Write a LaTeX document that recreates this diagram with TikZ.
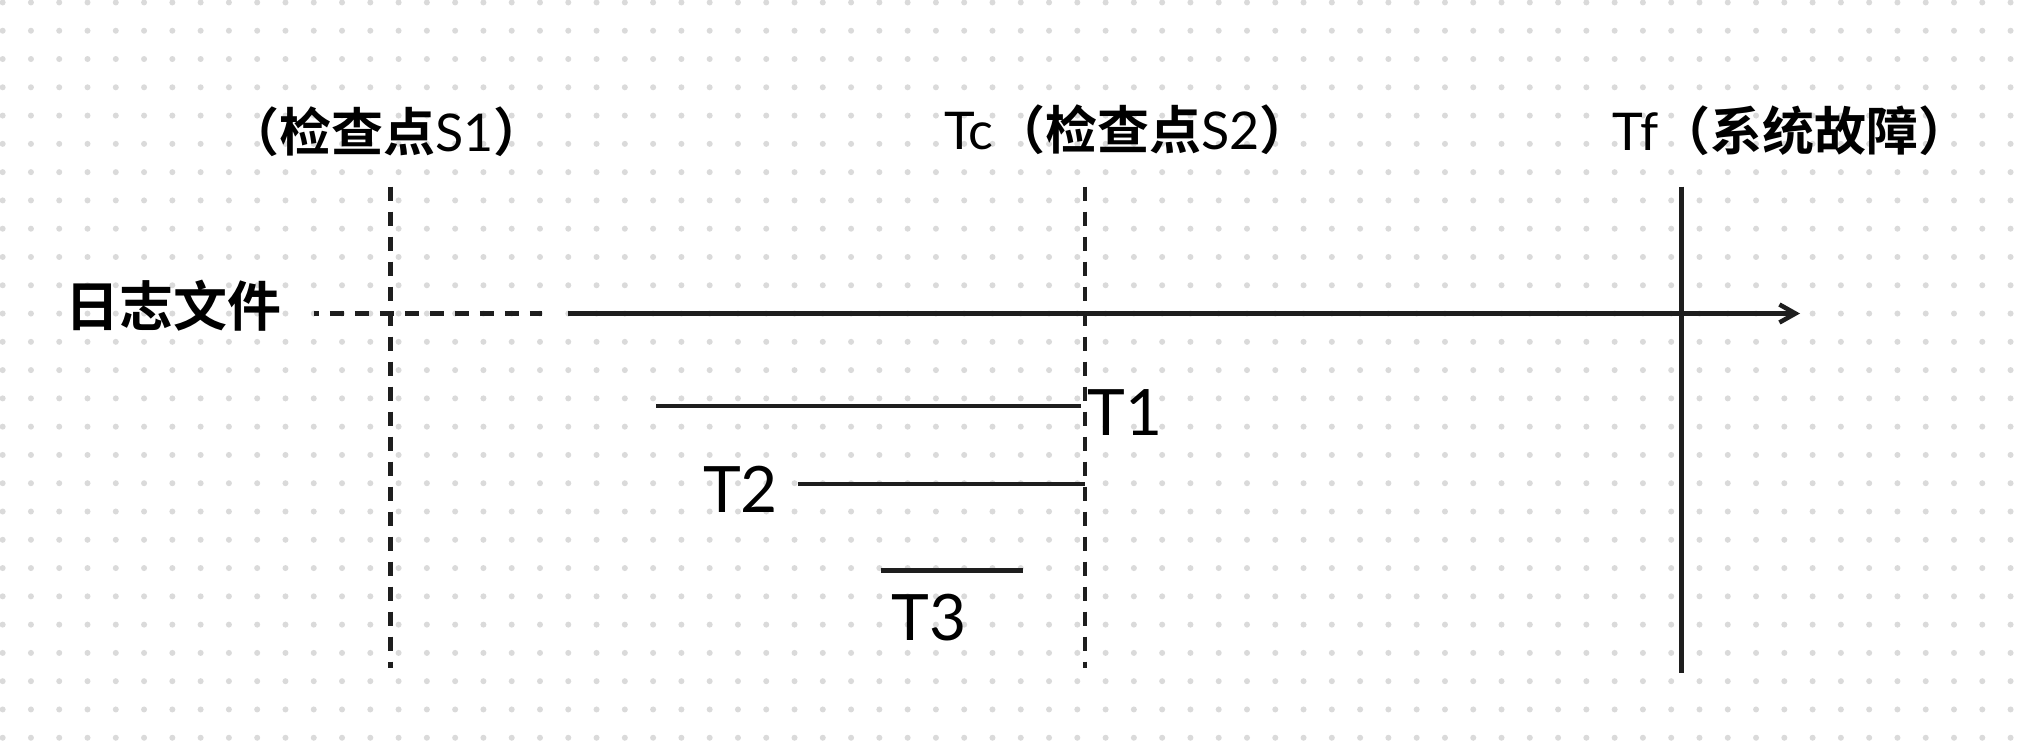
\documentclass[tikz,border=0pt]{standalone}
\usepackage{fontspec}
\usetikzlibrary{arrows.meta}
\newfontfamily\cjkbold{Noto Sans CJK SC Bold}
\newfontfamily\hand{Lato}
\definecolor{ink}{HTML}{1E1E1E}
\definecolor{dotc}{HTML}{DADADA}
\begin{document}
\begin{tikzpicture}[x=0.5pt,y=-0.5pt,
  stroke/.style={draw=ink,line width=2.25pt},
  dashline/.style={stroke,dash pattern=on 7pt off 5.5pt},
  toplabel/.style={inner sep=0pt,text=black,font=\cjkbold\fontsize{26}{30}\selectfont},
  tlabel/.style={inner sep=0pt,text=black,font=\hand\fontsize{32}{36}\selectfont},
]
\fill[white] (0,0) rectangle (2017,755);
\useasboundingbox (0,0) rectangle (2017,755);
\foreach \i in {0,...,71}{\foreach \j in {0,...,26}{\fill[dotc] ({2.67+28.28*\i},{2.46+28.28*\j}) circle[radius=3];}}

% labels
\node[toplabel] (s1lab) at (386.5,132) {（检查点{\hand S1}）};
\node[toplabel,anchor=west] (s2lab) at (944,130) {{\hand Tc}（检查点{\hand S2}）};
\node[toplabel,anchor=west] (tflab) at (1612,131) {{\hand Tf}（系统故障）};
\node[inner sep=0pt,text=black,font=\cjkbold\fontsize{27}{30}\selectfont] (log) at (173.7,306) {日志文件};

% coordinates
\coordinate (s1t) at (390.5,186.7); \coordinate (s1b) at (390.5,668);
\coordinate (s2t) at (1085,186.7);  \coordinate (s2b) at (1085,668);
\coordinate (tft) at (1681.7,186.7); \coordinate (tfb) at (1681.7,672.7);
\coordinate (la) at (313.8,313.5); \coordinate (lb) at (541.5,313.5);
\coordinate (lc) at (568.3,313.5); \coordinate (ld) at (1800,313.5);
\coordinate (t1a) at (656.3,406); \coordinate (t1b) at (1081.4,406);
\coordinate (t2a) at (797.9,484); \coordinate (t2b) at (1085,484);
\coordinate (t3a) at (880.5,570.7); \coordinate (t3b) at (1022.9,570.7);

% lines
\draw[dashline] (s1t) -- (s1b);
\draw[dashline] (s2t) -- (s2b);
\draw[stroke] (tft) -- (tfb);
\draw[dashline,dash phase=4.5pt] (la) -- (lb);
\draw[stroke,-{Straight Barb[length=8pt,width=9pt]}] (lc) -- (ld);
\draw[stroke] (t1a) -- (t1b);
\draw[stroke] (t2a) -- (t2b);
\draw[stroke] (t3a) -- (t3b);

\node[tlabel] (t1) at (1125,413) {T1};
\node[tlabel] (t2) at (740.6,489) {T2};
\node[tlabel] (t3) at (929,618) {T3};
\end{tikzpicture}
\end{document}
